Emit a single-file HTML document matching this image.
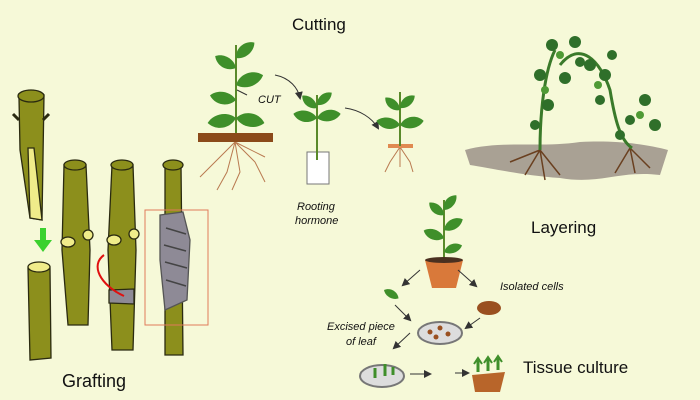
<!DOCTYPE html>
<html><head><style>
body{margin:0;background:#f6f9d8;}
svg{display:block}
text{font-family:"Liberation Sans",sans-serif;fill:#111}
</style></head><body>
<svg width="700" height="400" viewBox="0 0 700 400">
<rect width="700" height="400" fill="#f6f9d8"/>
<defs>
<marker id="ah" markerWidth="8" markerHeight="8" refX="6" refY="4" orient="auto"><path d="M0,0L8,4L0,8z" fill="#333"/></marker>
<g id="leaf"><path d="M0,0 C6,-8 18,-8 24,0 C18,7 6,7 0,0z" fill="#3f8f2a"/></g>
</defs>
<g stroke="#2a2a10" stroke-width="1.3" fill="#8c8f1c">
<path d="M19,98 L44,95 L42,220 L30,218 L20,150z"/>
<ellipse cx="31" cy="96" rx="13" ry="6"/>
<path d="M28,148 L30,218 L42,220 L34,148z" fill="#f0ec8a"/>
<path d="M19,120 l-6,-6 M43,120 l6,-6" stroke-width="3"/>
<path d="M28,268 L50,268 L51,358 L30,360z"/>
<ellipse cx="39" cy="267" rx="11" ry="5" fill="#f0ec8a"/>
<path d="M64,165 L86,165 L90,250 L88,325 L68,325 L62,250z"/>
<ellipse cx="75" cy="165" rx="11" ry="5"/>
<ellipse cx="68" cy="242" rx="7" ry="5" fill="#f0ec8a"/>
<ellipse cx="88" cy="235" rx="5" ry="5" fill="#f0ec8a"/>
<path d="M112,165 L133,165 L136,250 L133,350 L112,350 L108,250z"/>
<ellipse cx="122" cy="165" rx="11" ry="5"/>
<ellipse cx="114" cy="240" rx="7" ry="5" fill="#f0ec8a"/>
<ellipse cx="134" cy="234" rx="5" ry="5" fill="#f0ec8a"/>
<path d="M109,290 L134,289 L134,304 L109,303z" fill="#8e8a96"/>
<path d="M165,165 L181,165 L183,355 L165,355z"/>
<ellipse cx="173" cy="165" rx="10" ry="5"/>
<path d="M160,215 L183,212 L190,240 L187,300 L165,310 L160,260z" fill="#8e8a96" stroke="#555"/>
</g>
<path d="M166,228 l20,6 M164,245 l22,6 M165,262 l22,6 M166,280 l20,6" stroke="#444" stroke-width="1.5"/>
<path d="M40,228 v12 h-6 l9,12 l9,-12 h-6 v-12z" fill="#3bd12e"/>
<path d="M124,296 C100,285 90,265 104,255" stroke="#e01010" stroke-width="2" fill="none"/>
<rect x="145" y="210" width="63" height="115" fill="none" stroke="#e07a5a" stroke-width="1"/>
<text x="62" y="387" font-size="18">Grafting</text>

<text x="292" y="30" font-size="17">Cutting</text>
<g stroke="#b97a50" stroke-width="1" fill="none">
<path d="M235,142 l-20,20 l-15,15 M235,142 l-8,30 l-10,18 M235,142 l5,30 l-8,18 M235,142 l20,20 l10,20 M235,142 l30,15"/>
<path d="M400,147 l-10,15 l-5,10 M400,147 l0,20 M400,147 l10,15 l3,10"/>
</g>
<rect x="198" y="133" width="75" height="9" fill="#8b4a1a"/>
<path d="M236,133 V45" stroke="#5a8a2a" stroke-width="2"/>
<use href="#leaf" transform="translate(236,58) rotate(-40)"/>
<use href="#leaf" transform="translate(236,68) rotate(-150)"/>
<use href="#leaf" transform="translate(236,85) rotate(-20) scale(1.2)"/>
<use href="#leaf" transform="translate(236,100) rotate(-170) scale(1.1)"/>
<use href="#leaf" transform="translate(236,118) rotate(10) scale(1.2)"/>
<use href="#leaf" transform="translate(236,118) rotate(-190) scale(1.2)"/>
<path d="M275,75 C290,78 298,88 300,98" stroke="#333" fill="none" marker-end="url(#ah)"/>
<text x="258" y="103" font-size="11" font-style="italic">CUT</text>
<path d="M237,90 l10,5" stroke="#333"/>
<rect x="307" y="152" width="22" height="32" fill="#fff" stroke="#777"/>
<path d="M317,160 V95" stroke="#5a8a2a" stroke-width="2"/>
<use href="#leaf" transform="translate(317,118) rotate(-10)"/>
<use href="#leaf" transform="translate(317,118) rotate(-170)"/>
<use href="#leaf" transform="translate(317,105) rotate(-40) scale(0.8)"/>
<use href="#leaf" transform="translate(317,108) rotate(-140) scale(0.8)"/>
<text x="297" y="210" font-size="11" font-style="italic">Rooting</text>
<text x="295" y="224" font-size="11" font-style="italic">hormone</text>
<path d="M345,108 C360,110 372,118 378,128" stroke="#333" fill="none" marker-end="url(#ah)"/>
<rect x="388" y="144" width="25" height="4" fill="#e08a50"/>
<path d="M400,146 V92" stroke="#5a8a2a" stroke-width="2"/>
<use href="#leaf" transform="translate(400,125) rotate(-10)"/>
<use href="#leaf" transform="translate(400,125) rotate(-170)"/>
<use href="#leaf" transform="translate(400,108) rotate(-40) scale(0.8)"/>
<use href="#leaf" transform="translate(400,110) rotate(-140) scale(0.8)"/>

<path d="M465,150 C500,140 540,148 580,142 C620,140 650,145 668,150 L660,175 C620,170 600,185 560,178 C520,175 490,168 470,165z" fill="#a9a194"/>
<g stroke="#6a4020" stroke-width="1.5" fill="none">
<path d="M540,150 l-15,25 M540,150 l5,30 M540,150 l20,25 M540,150 l-30,12"/>
<path d="M630,148 l-15,25 M630,148 l5,25 M630,148 l20,20"/>
</g>
<path d="M540,150 C540,110 545,70 555,50 M560,65 C580,40 600,60 610,90 C615,120 620,140 632,148" stroke="#3a7a2a" stroke-width="3" fill="none"/>
<g fill="#2f6f2a">
<circle cx="552" cy="45" r="6"/><circle cx="575" cy="42" r="6"/><circle cx="540" cy="75" r="6"/><circle cx="565" cy="78" r="6"/><circle cx="590" cy="65" r="6"/><circle cx="605" cy="75" r="6"/><circle cx="548" cy="105" r="6"/><circle cx="645" cy="100" r="6"/><circle cx="655" cy="125" r="6"/><circle cx="630" cy="120" r="5"/><circle cx="600" cy="100" r="5"/>
<circle cx="535" cy="125" r="5"/><circle cx="612" cy="55" r="5"/><circle cx="580" cy="62" r="5"/><circle cx="620" cy="135" r="5"/>
</g>
<g fill="#4f9a35"><circle cx="560" cy="55" r="4"/><circle cx="545" cy="90" r="4"/><circle cx="640" cy="115" r="4"/><circle cx="598" cy="85" r="4"/></g>
<text x="531" y="233" font-size="17">Layering</text>

<path d="M444,260 V200" stroke="#5a8a2a" stroke-width="2"/>
<use href="#leaf" transform="translate(444,210) rotate(-50) scale(0.8)"/>
<use href="#leaf" transform="translate(444,215) rotate(-140) scale(0.8)"/>
<use href="#leaf" transform="translate(444,230) rotate(-30) scale(0.9)"/>
<use href="#leaf" transform="translate(444,238) rotate(-160) scale(0.9)"/>
<use href="#leaf" transform="translate(444,252) rotate(-20) scale(0.8)"/>
<path d="M425,260 L463,260 L456,288 L432,288z" fill="#d9793a"/>
<ellipse cx="444" cy="260" rx="19" ry="3" fill="#4a3020"/>
<g stroke="#333" fill="none" marker-end="url(#ah)">
<path d="M420,270 L403,285"/><path d="M458,270 L476,286"/>
<path d="M395,305 L410,320"/><path d="M480,318 L466,328"/>
<path d="M410,333 L394,348"/><path d="M410,374 L430,374"/><path d="M455,373 L468,373"/>
</g>
<use href="#leaf" transform="translate(384,290) rotate(30) scale(0.7)"/>
<ellipse cx="489" cy="308" rx="12" ry="7" fill="#9a5020"/>
<text x="500" y="290" font-size="11" font-style="italic">Isolated cells</text>
<text x="327" y="330" font-size="11" font-style="italic">Excised piece</text>
<text x="346" y="345" font-size="11" font-style="italic">of leaf</text>
<ellipse cx="440" cy="333" rx="22" ry="11" fill="#ddd" stroke="#777" stroke-width="2"/>
<g fill="#9a5020"><circle cx="430" cy="332" r="2.5"/><circle cx="440" cy="328" r="2.5"/><circle cx="448" cy="334" r="2.5"/><circle cx="436" cy="337" r="2.5"/></g>
<ellipse cx="382" cy="376" rx="22" ry="11" fill="#ddd" stroke="#777" stroke-width="2"/>
<path d="M375,378 v-10 M385,376 v-12 M393,375 v-8" stroke="#3f8f2a" stroke-width="3"/>
<path d="M472,375 L505,372 L500,392 L475,392z" fill="#b8652a"/>
<path d="M478,372 v-12 M488,371 v-12 M498,370 v-12" stroke="#3f8f2a" stroke-width="3"/>
<path d="M474,364 l4,-6 l4,6 M484,363 l4,-6 l4,6 M494,362 l4,-6 l4,6" stroke="#3f8f2a" stroke-width="2" fill="none"/>
<text x="523" y="373" font-size="17">Tissue culture</text>
</svg>
</body></html>
